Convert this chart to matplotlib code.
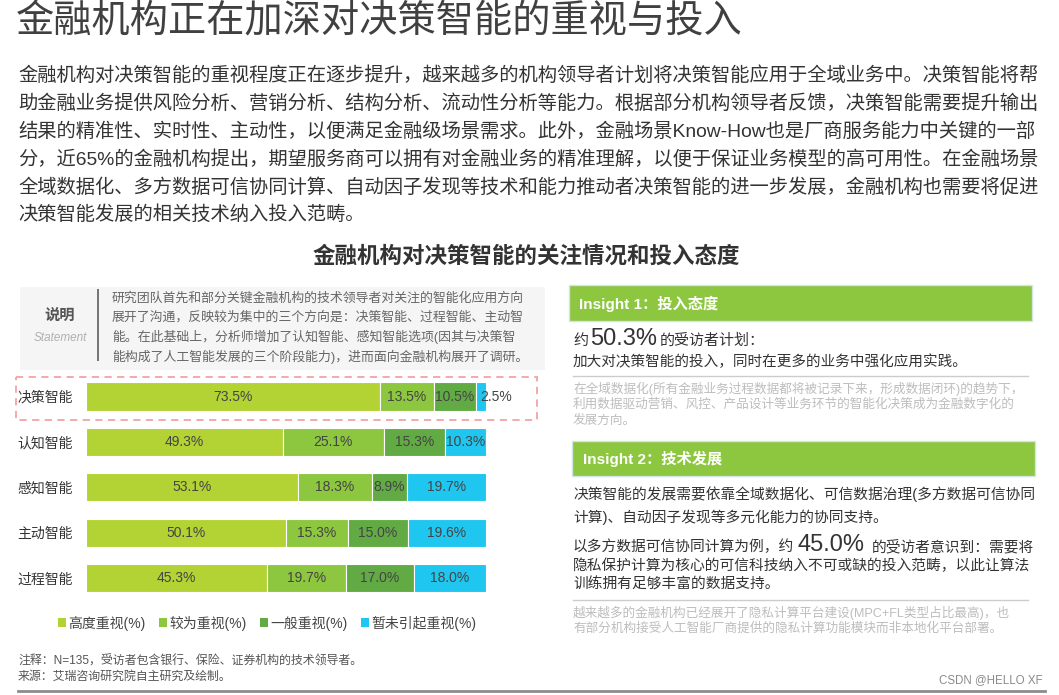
import matplotlib
matplotlib.use('Agg')
import matplotlib.pyplot as plt
from matplotlib.patches import Rectangle, Patch
from matplotlib.lines import Line2D
from matplotlib.transforms import Affine2D
import numpy as np

W, H = 1059, 695
plt.rcParams['font.family'] = ['Liberation Sans', 'Noto Sans CJK SC']

# ---------------- data ----------------
categories = ['决策智能', '认知智能', '感知智能', '主动智能', '过程智能']
series_names = ['高度重视(%)', '较为重视(%)', '一般重视(%)', '暂未引起重视(%)']
high = [73.5, 49.3, 53.1, 50.1, 45.3]
moderate = [13.5, 25.1, 18.3, 15.3, 19.7]
general = [10.5, 15.3, 8.9, 15.0, 17.0]
not_yet = [2.5, 10.3, 19.7, 19.6, 18.0]
series = [high, moderate, general, not_yet]
colors = ['#b3d334', '#8dc63f', '#62ab44', '#1fc6f0']

title = '金融机构正在加深对决策智能的重视与投入'
paragraph = [
    '金融机构对决策智能的重视程度正在逐步提升，越来越多的机构领导者计划将决策智能应用于全域业务中。决策智能将帮',
    '助金融业务提供风险分析、营销分析、结构分析、流动性分析等能力。根据部分机构领导者反馈，决策智能需要提升输出',
    '结果的精准性、实时性、主动性，以便满足金融级场景需求。此外，金融场景Know-How也是厂商服务能力中关键的一部',
    '分，近65%的金融机构提出，期望服务商可以拥有对金融业务的精准理解，以便于保证业务模型的高可用性。在金融场景',
    '全域数据化、多方数据可信协同计算、自动因子发现等技术和能力推动者决策智能的进一步发展，金融机构也需要将促进',
    '决策智能发展的相关技术纳入投入范畴。',
]
chart_title = '金融机构对决策智能的关注情况和投入态度'
statement = [
    '研究团队首先和部分关键金融机构的技术领导者对关注的智能化应用方向',
    '展开了沟通，反映较为集中的三个方向是：决策智能、过程智能、主动智',
    '能。在此基础上，分析师增加了认知智能、感知智能选项(因其与决策智',
    '能构成了人工智能发展的三个阶段能力)，进而面向金融机构展开了调研。',
]
insight1_gray = [
    '在全域数据化(所有金融业务过程数据都将被记录下来，形成数据闭环)的趋势下，',
    '利用数据驱动营销、风控、产品设计等业务环节的智能化决策成为金融数字化的',
    '发展方向。',
]
insight2_body = [
    '决策智能的发展需要依靠全域数据化、可信数据治理(多方数据可信协同',
    '计算)、自动因子发现等多元化能力的协同支持。',
]
insight2_more = [
    '隐私保护计算为核心的可信科技纳入不可或缺的投入范畴，以此让算法',
    '训练拥有足够丰富的数据支持。',
]
insight2_gray = [
    '越来越多的金融机构已经展开了隐私计算平台建设(MPC+FL类型占比最高)，也',
    '有部分机构接受人工智能厂商提供的隐私计算功能模块而非本地化平台部署。',
]
notes = ['注释：N=135，受访者包含银行、保险、证券机构的技术领导者。',
         '来源：艾瑞咨询研究院自主研究及绘制。']

# ---------------- figure ----------------
fig = plt.figure(figsize=(W / 100, H / 100), dpi=100)
fig.patch.set_facecolor('white')
pix = Affine2D().scale(1 / W, -1 / H).translate(0, 1) + fig.transFigure


def txt(x, y, s, size, color='#333333', **kw):
    kw.setdefault('va', 'center')
    return fig.text(x, y, s, transform=pix, fontsize=size, color=color, **kw)


def hline(x0, x1, y, color, lw):
    fig.add_artist(Line2D([x0, x1], [y, y], transform=pix, color=color, lw=lw))


# title & paragraph
txt(16, 22, title, 27.5, color='#404040')
for i, line in enumerate(paragraph):
    txt(18, 76 + i * 27.8, line, 13.9, color='#333333')

txt(526, 257, chart_title, 16.2, color='#333333', ha='center', fontweight='bold')

# statement box
fig.add_artist(Rectangle((20, 287), 525, 83, transform=pix, facecolor='#f5f5f5',
                         edgecolor='none', zorder=0))
fig.add_artist(Rectangle((96.5, 289), 2.5, 72, transform=pix, facecolor='#777777',
                         edgecolor='none'))
txt(60, 316, '说明', 11, color='#555555', ha='center', fontweight='bold')
txt(60, 338, 'Statement', 8.5, color='#b0b0b0', ha='center', style='italic')
for i, line in enumerate(statement):
    txt(112, 298 + i * 19.5, line, 9.3, color='#666666')

# dashed highlight box
fig.add_artist(Rectangle((16, 377), 521, 43, transform=pix, fill=False,
                         edgecolor='#f2a3a3', lw=1.3, linestyle=(0, (4, 3))))

# bars
top_px, bot_px = 373.8, 600.8
ax = fig.add_axes([86 / W, 1 - bot_px / H, 400 / W, (bot_px - top_px) / H])
y = np.arange(len(categories))
left = np.zeros(len(categories))
for vals, col, name in zip(series, colors, series_names):
    vals = np.array(vals)
    ax.barh(y, vals, left=left, height=0.62, color=col, edgecolor='white',
            linewidth=0.8, label=name)
    for yi, (l, v) in enumerate(zip(left, vals)):
        if v < 5:
            ax.text(l + 1.0, yi, f'{v:.1f}%', ha='left', va='center',
                    fontsize=10, color='#444444', clip_on=False)
        else:
            ax.text(l + v / 2, yi, f'{v:.1f}%', ha='center', va='center',
                    fontsize=10, color='#444444')
    left = left + vals
ax.set_xlim(0, 100)
ax.set_ylim(len(categories) - 0.5, -0.5)
ax.set_yticks(y)
ax.set_yticklabels(categories, fontsize=10, color='#333333')
ax.tick_params(axis='y', length=0, pad=9.5)
ax.set_xticks([])
for s in ax.spines.values():
    s.set_visible(False)
ax.set_facecolor('none')

handles = [Patch(facecolor=c, edgecolor='none') for c in colors]
fig.legend(handles, series_names, loc='center', bbox_to_anchor=(267 / W, 1 - 623 / H),
           ncol=4, frameon=False, fontsize=10, handlelength=0.6, handleheight=0.6,
           handletextpad=0.15, columnspacing=0.95, labelcolor='#444444')

# notes
txt(18, 662, notes[0], 8.6, color='#555555')
txt(18, 677, notes[1], 8.6, color='#555555')
txt(1043, 680, 'CSDN @HELLO XF', 8.3, color='#8a8a8a', ha='right')
hline(18, 1045, 691, '#8c8c8c', 2)

# insight 1
fig.add_artist(Rectangle((569, 285), 463, 36, transform=pix, facecolor='#8dc63f',
                         edgecolor='#d3e3ea', lw=1))
txt(579, 304, 'Insight 1：投入态度', 11, color='white', fontweight='bold')
txt(573, 341, '约', 10.8)
txt(590, 339, '50.3%', 17, color='#333333')
txt(660, 341, '的受访者计划：', 10.8)
txt(573, 362, '加大对决策智能的投入，同时在更多的业务中强化应用实践。', 10.5)
hline(573, 1028, 376, '#cccccc', 1)
for i, line in enumerate(insight1_gray):
    txt(573, 389 + i * 16, line, 9.1, color='#bdbdbd')

# insight 2
fig.add_artist(Rectangle((572, 441), 463, 35, transform=pix, facecolor='#8dc63f',
                         edgecolor='#d3e3ea', lw=1))
txt(583, 459, 'Insight 2：技术发展', 11, color='white', fontweight='bold')
for i, line in enumerate(insight2_body):
    txt(573, 494 + i * 23, line, 10.6)
txt(573, 547, '以多方数据可信协同计算为例，约', 10.6)
txt(797, 545, '45.0%', 17, color='#333333')
txt(872, 547, '的受访者意识到：需要将', 10.6)
for i, line in enumerate(insight2_more):
    txt(573, 565.5 + i * 18.5, line, 10.6)
hline(573, 1028, 600, '#cccccc', 1)
for i, line in enumerate(insight2_gray):
    txt(573, 613 + i * 15.5, line, 9.1, color='#bdbdbd')

fig.savefig('out.png', dpi=100, facecolor='white')
